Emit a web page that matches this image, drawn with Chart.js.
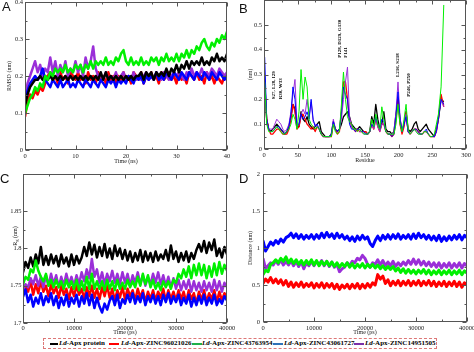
<!DOCTYPE html>
<html><head><meta charset="utf-8">
<script src="https://cdn.jsdelivr.net/npm/chart.js@4/dist/chart.umd.min.js"></script>
<style>
html,body{margin:0;padding:0;background:#fff;}
#wrap{position:relative;width:474px;height:352px;overflow:hidden;background:#fff;}
canvas{position:absolute;}
.lbl{position:absolute;font-family:"Liberation Sans",Arial,sans-serif;font-size:13px;color:#111;line-height:13px;}
#legend{position:absolute;left:43px;top:338px;width:394px;height:11px;border:1px dashed #d77;box-sizing:border-box;}
.li{position:absolute;top:0;height:9px;font-family:"Liberation Serif",serif;font-weight:bold;font-size:7px;line-height:9px;white-space:nowrap;color:#000;}
.li i{font-style:italic;}
.sw{position:absolute;top:3.5px;height:2.5px;width:10px;}
#ctitle{position:absolute;left:-6px;top:232px;width:42px;height:8px;line-height:8px;text-align:center;font-family:"Liberation Serif",serif;font-size:6px;color:#222;transform:rotate(-90deg);}
#ctitle sub{font-size:4.5px;vertical-align:-1px;line-height:0;}
</style></head>
<body>
<div id="wrap">
<canvas id="cA" width="237" height="166" style="left:0;top:0"></canvas>
<canvas id="cB" width="237" height="166" style="left:237px;top:0"></canvas>
<canvas id="cC" width="237" height="168" style="left:0;top:170px"></canvas>
<canvas id="cD" width="237" height="168" style="left:237px;top:170px"></canvas>
<div class="lbl" style="left:2px;top:0px">A</div>
<div class="lbl" style="left:239px;top:2px">B</div>
<div class="lbl" style="left:0px;top:172px">C</div>
<div class="lbl" style="left:239px;top:172px">D</div>
<div id="ctitle">R<sub>g</sub> (nm)</div>
<div id="legend"></div>
</div>
<script>
// ---------- categories / x values ----------
const timeNs = [0,0.5,1,1.5,2,2.5,3,3.5,4,4.5,5,5.5,6,6.5,7,7.5,8,8.5,9,9.5,10,10.5,11,11.5,12,12.5,13,13.5,14,14.5,15,15.5,16,16.5,17,17.5,18,18.5,19,19.5,20,20.5,21,21.5,22,22.5,23,23.5,24,24.5,25,25.5,26,26.5,27,27.5,28,28.5,29,29.5,30,30.5,31,31.5,32,32.5,33,33.5,34,34.5,35,35.5,36,36.5,37,37.5,38,38.5,39,39.5,40];
const timePs = [0,500,1000,1500,2000,2500,3000,3500,4000,4500,5000,5500,6000,6500,7000,7500,8000,8500,9000,9500,10000,10500,11000,11500,12000,12500,13000,13500,14000,14500,15000,15500,16000,16500,17000,17500,18000,18500,19000,19500,20000,20500,21000,21500,22000,22500,23000,23500,24000,24500,25000,25500,26000,26500,27000,27500,28000,28500,29000,29500,30000,30500,31000,31500,32000,32500,33000,33500,34000,34500,35000,35500,36000,36500,37000,37500,38000,38500,39000,39500,40000];
const residues = [1,4,7,10,13,16,19,22,25,28,31,34,37,40,43,46,49,52,55,58,61,64,67,70,73,76,79,82,85,88,91,94,97,100,103,106,109,112,115,118,121,124,127,130,133,136,139,142,145,148,151,154,157,160,163,166,169,172,175,178,181,184,187,190,193,196,199,202,205,208,211,214,217,220,223,226,229,232,235,238,241,244,247,250,253,256,259,263,267];

// ---------- tick labels ----------
const ticksA_x = [0,10,20,30,40];
const ticksA_y = [0,0.1,0.2,0.3,0.4];
const ticksB_x = [0,50,100,150,200,250,300];
const ticksB_y = [0,0.1,0.2,0.3,0.4,0.5];
const ticksC_x = [0,10000,20000,30000,40000];
const ticksC_y = [1.7,1.75,1.8,1.85];
const ticksD_x = [0,10000,20000,30000,40000];
const ticksD_y = [0,0.5,1,1.5,2];

// ---------- series names ----------
const seriesNames = ['Ld-Apx protein','Ld-Apx-ZINC96021026','Ld-Apx-ZINC43763954','Ld-Apx-ZINC43061727','Ld-Apx-ZINC14951505'];

// ---------- A: RMSD (nm) ----------
const rmsdProtein = [0.12,0.15,0.17,0.18,0.19,0.19,0.2,0.19,0.2,0.19,
0.2,0.19,0.2,0.19,0.2,0.19,0.2,0.19,0.2,0.19,
0.2,0.19,0.2,0.19,0.2,0.19,0.2,0.19,0.2,0.19,
0.21,0.19,0.21,0.19,0.2,0.19,0.2,0.19,0.2,0.19,
0.2,0.19,0.2,0.19,0.2,0.2,0.21,0.19,0.21,0.2,
0.21,0.19,0.21,0.2,0.21,0.2,0.22,0.2,0.22,0.21,
0.23,0.21,0.23,0.22,0.24,0.22,0.24,0.23,0.24,0.23,
0.25,0.23,0.24,0.23,0.25,0.24,0.26,0.24,0.25,0.24,
0.26];
const rmsdZ960 = [0.09,0.13,0.15,0.14,0.16,0.15,0.17,0.16,0.18,0.2,
0.21,0.19,0.2,0.18,0.21,0.19,0.2,0.18,0.21,0.2,
0.19,0.21,0.19,0.2,0.18,0.21,0.19,0.2,0.18,0.21,
0.19,0.2,0.18,0.21,0.19,0.2,0.18,0.2,0.19,0.21,
0.19,0.2,0.18,0.21,0.2,0.19,0.21,0.18,0.2,0.19,
0.21,0.19,0.2,0.18,0.21,0.19,0.2,0.21,0.19,0.2,
0.18,0.21,0.19,0.2,0.18,0.21,0.2,0.19,0.21,0.19,
0.2,0.18,0.21,0.19,0.2,0.18,0.2,0.19,0.18,0.2,
0.19];
const rmsdZ437 = [0.1,0.12,0.14,0.15,0.17,0.16,0.18,0.17,0.2,0.19,
0.21,0.2,0.22,0.21,0.22,0.21,0.23,0.21,0.22,0.21,
0.23,0.22,0.23,0.21,0.23,0.22,0.24,0.22,0.24,0.23,
0.24,0.23,0.25,0.23,0.24,0.23,0.25,0.24,0.26,0.27,
0.24,0.23,0.25,0.23,0.24,0.23,0.25,0.23,0.24,0.23,
0.25,0.24,0.25,0.23,0.25,0.24,0.26,0.24,0.25,0.24,
0.26,0.24,0.26,0.25,0.27,0.25,0.27,0.26,0.28,0.27,
0.29,0.3,0.28,0.27,0.29,0.28,0.3,0.29,0.31,0.3,
0.32];
const rmsdZ430 = [0.13,0.16,0.18,0.19,0.2,0.19,0.2,0.22,0.19,0.18,
0.17,0.19,0.18,0.17,0.19,0.17,0.18,0.19,0.17,0.18,
0.17,0.19,0.18,0.17,0.19,0.18,0.17,0.19,0.18,0.17,
0.19,0.18,0.17,0.19,0.18,0.19,0.17,0.19,0.18,0.19,
0.18,0.2,0.19,0.18,0.2,0.19,0.2,0.18,0.2,0.19,
0.2,0.19,0.21,0.19,0.2,0.19,0.21,0.2,0.19,0.21,
0.2,0.19,0.21,0.2,0.19,0.21,0.2,0.19,0.21,0.2,
0.19,0.21,0.2,0.19,0.21,0.2,0.19,0.21,0.2,0.19,
0.2];
const rmsdZ149 = [0.14,0.18,0.2,0.22,0.24,0.21,0.23,0.2,0.22,0.21,
0.25,0.21,0.24,0.2,0.23,0.21,0.24,0.2,0.22,0.21,
0.24,0.21,0.23,0.2,0.25,0.22,0.24,0.28,0.22,0.2,
0.2,0.19,0.21,0.19,0.2,0.19,0.21,0.19,0.2,0.21,
0.19,0.2,0.19,0.21,0.19,0.2,0.19,0.2,0.21,0.19,
0.2,0.19,0.21,0.2,0.19,0.21,0.2,0.19,0.2,0.21,
0.2,0.21,0.2,0.19,0.21,0.2,0.22,0.2,0.21,0.2,
0.22,0.2,0.21,0.2,0.22,0.21,0.2,0.22,0.21,0.2,
0.21];

// ---------- B: RMSF (nm) per residue ----------
const rmsfProtein = [0.28,0.12,0.08,0.07,0.08,0.09,0.1,0.09,0.08,0.07,
0.06,0.07,0.09,0.13,0.18,0.16,0.09,0.09,0.15,0.12,
0.11,0.13,0.1,0.09,0.08,0.09,0.1,0.11,0.07,0.06,
0.05,0.05,0.05,0.06,0.11,0.08,0.07,0.08,0.1,0.13,
0.14,0.15,0.13,0.1,0.09,0.08,0.08,0.09,0.08,0.07,
0.07,0.06,0.07,0.13,0.1,0.18,0.12,0.08,0.1,0.15,
0.08,0.07,0.07,0.06,0.07,0.14,0.2,0.12,0.07,0.1,
0.15,0.08,0.07,0.08,0.1,0.11,0.08,0.07,0.08,0.09,
0.1,0.08,0.07,0.06,0.05,0.08,0.12,0.2,0.19];
const rmsfZ960 = [0.25,0.12,0.08,0.06,0.06,0.07,0.08,0.08,0.07,0.06,
0.06,0.06,0.08,0.12,0.18,0.15,0.08,0.09,0.13,0.14,
0.12,0.1,0.09,0.08,0.09,0.07,0.09,0.08,0.06,0.05,
0.05,0.05,0.05,0.05,0.1,0.08,0.06,0.07,0.15,0.27,
0.27,0.2,0.12,0.09,0.08,0.07,0.08,0.07,0.07,0.07,
0.07,0.06,0.07,0.1,0.08,0.12,0.09,0.07,0.1,0.1,
0.07,0.06,0.06,0.05,0.06,0.12,0.2,0.1,0.06,0.09,
0.15,0.07,0.06,0.07,0.08,0.08,0.07,0.06,0.06,0.07,
0.07,0.06,0.05,0.05,0.05,0.07,0.12,0.22,0.17];
const rmsfZ437 = [0.27,0.1,0.07,0.07,0.07,0.08,0.09,0.08,0.07,0.06,
0.06,0.07,0.08,0.1,0.14,0.12,0.08,0.15,0.32,0.2,
0.29,0.25,0.12,0.1,0.09,0.08,0.09,0.08,0.06,0.05,
0.05,0.05,0.05,0.05,0.1,0.07,0.06,0.07,0.18,0.31,
0.2,0.13,0.11,0.1,0.08,0.08,0.07,0.08,0.07,0.06,
0.06,0.06,0.07,0.12,0.09,0.14,0.1,0.08,0.17,0.12,
0.07,0.06,0.06,0.06,0.06,0.1,0.18,0.1,0.07,0.12,
0.18,0.08,0.06,0.07,0.08,0.07,0.06,0.06,0.06,0.07,
0.07,0.06,0.05,0.05,0.06,0.1,0.14,0.25,0.58];
const rmsfZ430 = [0.37,0.12,0.08,0.07,0.07,0.08,0.09,0.09,0.08,0.07,
0.06,0.07,0.09,0.14,0.25,0.2,0.09,0.1,0.14,0.12,
0.13,0.15,0.12,0.2,0.12,0.09,0.1,0.08,0.06,0.05,
0.05,0.05,0.05,0.06,0.11,0.08,0.07,0.08,0.15,0.25,
0.22,0.2,0.1,0.08,0.08,0.07,0.08,0.08,0.07,0.07,
0.06,0.06,0.07,0.1,0.09,0.13,0.1,0.08,0.12,0.11,
0.07,0.06,0.06,0.05,0.06,0.13,0.23,0.12,0.07,0.1,
0.13,0.07,0.06,0.07,0.08,0.08,0.07,0.06,0.06,0.07,
0.08,0.06,0.05,0.05,0.05,0.07,0.12,0.2,0.18];
const rmsfZ149 = [0.3,0.11,0.08,0.08,0.08,0.1,0.12,0.11,0.1,0.08,
0.07,0.08,0.1,0.15,0.22,0.28,0.1,0.1,0.14,0.16,
0.14,0.2,0.13,0.19,0.11,0.1,0.09,0.08,0.06,0.05,
0.05,0.05,0.05,0.06,0.12,0.08,0.07,0.08,0.12,0.2,
0.27,0.33,0.13,0.09,0.08,0.07,0.08,0.07,0.07,0.06,
0.06,0.06,0.07,0.1,0.08,0.12,0.09,0.07,0.1,0.1,
0.07,0.06,0.06,0.06,0.07,0.15,0.27,0.13,0.07,0.1,
0.14,0.07,0.06,0.07,0.08,0.07,0.06,0.06,0.06,0.07,
0.07,0.06,0.05,0.05,0.05,0.07,0.13,0.2,0.17];
const rmsfNotes = [
  {text:'S27, L28, I29', res:15, val:0.2},
  {text:'R30, W33', res:25, val:0.2},
  {text:'P128, D129, G130', res:113, val:0.367},
  {text:'F141', res:121, val:0.367},
  {text:'L216, S218', res:199, val:0.29},
  {text:'P246, P250', res:215, val:0.21}
];

// ---------- C: Rg (nm) ----------
const rgProtein = [1.768,1.782,1.774,1.788,1.776,1.792,1.78,1.802,1.778,1.79,
1.778,1.792,1.78,1.79,1.776,1.792,1.78,1.788,1.776,1.792,
1.778,1.79,1.78,1.788,1.802,1.79,1.808,1.792,1.805,1.788,
1.802,1.79,1.806,1.788,1.8,1.786,1.804,1.79,1.8,1.786,
1.798,1.784,1.796,1.782,1.794,1.784,1.798,1.782,1.796,1.784,
1.794,1.782,1.796,1.784,1.792,1.786,1.798,1.784,1.804,1.786,
1.796,1.782,1.794,1.784,1.796,1.782,1.794,1.786,1.798,1.806,
1.796,1.81,1.794,1.808,1.798,1.812,1.79,1.8,1.788,1.802,
1.792];
const rgZ960 = [1.738,1.75,1.742,1.756,1.738,1.752,1.74,1.756,1.742,1.75,
1.736,1.752,1.74,1.748,1.734,1.75,1.738,1.746,1.732,1.748,
1.736,1.75,1.738,1.746,1.732,1.748,1.736,1.75,1.734,1.746,
1.732,1.748,1.736,1.75,1.734,1.746,1.73,1.744,1.734,1.748,
1.732,1.746,1.736,1.744,1.73,1.746,1.734,1.744,1.728,1.742,
1.732,1.744,1.73,1.742,1.734,1.746,1.73,1.744,1.732,1.742,
1.73,1.744,1.732,1.742,1.728,1.744,1.732,1.74,1.726,1.742,
1.73,1.744,1.728,1.74,1.732,1.744,1.728,1.742,1.73,1.74,
1.734];
const rgZ437 = [1.752,1.762,1.758,1.772,1.768,1.784,1.77,1.762,1.756,1.766,
1.75,1.758,1.748,1.758,1.748,1.756,1.746,1.758,1.748,1.756,
1.746,1.758,1.744,1.756,1.744,1.762,1.746,1.766,1.746,1.756,
1.746,1.756,1.744,1.758,1.746,1.756,1.744,1.758,1.746,1.754,
1.746,1.758,1.748,1.756,1.748,1.762,1.75,1.766,1.752,1.764,
1.748,1.758,1.746,1.754,1.744,1.756,1.748,1.756,1.746,1.758,
1.754,1.766,1.76,1.772,1.762,1.776,1.76,1.778,1.764,1.78,
1.764,1.778,1.76,1.776,1.762,1.78,1.764,1.782,1.766,1.778,
1.77];
const rgZ430 = [1.735,1.745,1.728,1.738,1.722,1.734,1.726,1.74,1.724,1.736,
1.728,1.74,1.724,1.736,1.72,1.734,1.724,1.738,1.722,1.734,
1.726,1.738,1.722,1.736,1.726,1.74,1.724,1.738,1.72,1.734,
1.722,1.714,1.726,1.718,1.73,1.736,1.724,1.738,1.72,1.732,
1.726,1.738,1.728,1.74,1.726,1.736,1.728,1.74,1.724,1.736,
1.728,1.738,1.726,1.736,1.724,1.738,1.728,1.74,1.726,1.736,
1.728,1.738,1.724,1.734,1.726,1.738,1.722,1.734,1.724,1.736,
1.726,1.738,1.724,1.734,1.726,1.738,1.724,1.732,1.726,1.736,
1.73];
const rgZ149 = [1.744,1.752,1.748,1.76,1.752,1.764,1.75,1.762,1.748,1.764,
1.75,1.766,1.752,1.764,1.748,1.762,1.75,1.766,1.752,1.762,
1.75,1.764,1.752,1.768,1.756,1.772,1.76,1.786,1.762,1.772,
1.754,1.768,1.752,1.766,1.756,1.77,1.754,1.766,1.752,1.768,
1.754,1.766,1.75,1.764,1.754,1.768,1.752,1.764,1.75,1.762,
1.752,1.766,1.754,1.768,1.752,1.764,1.75,1.762,1.748,1.76,
1.746,1.758,1.744,1.756,1.746,1.758,1.742,1.756,1.744,1.754,
1.742,1.756,1.744,1.754,1.742,1.758,1.744,1.756,1.742,1.754,
1.748];

// ---------- D: Distance (nm) ----------
const distZ960 = [0.52,0.58,0.54,0.6,0.53,0.58,0.52,0.57,0.5,0.56,
0.48,0.54,0.47,0.53,0.48,0.54,0.47,0.52,0.48,0.53,
0.46,0.52,0.47,0.53,0.46,0.52,0.47,0.52,0.45,0.51,
0.44,0.5,0.46,0.51,0.45,0.51,0.46,0.52,0.45,0.51,
0.46,0.52,0.47,0.53,0.5,0.64,0.58,0.62,0.52,0.57,
0.49,0.55,0.5,0.56,0.49,0.55,0.5,0.56,0.49,0.55,
0.5,0.56,0.49,0.55,0.5,0.56,0.49,0.55,0.48,0.54,
0.49,0.55,0.48,0.54,0.49,0.55,0.48,0.54,0.47,0.53,
0.5];
const distZ437 = [0.64,0.7,0.68,0.78,0.8,0.84,0.8,0.86,0.82,0.88,
0.8,0.85,0.79,0.84,0.78,0.83,0.77,0.83,0.78,0.84,
0.77,0.83,0.76,0.82,0.77,0.82,0.76,0.81,0.75,0.8,
0.74,0.79,0.75,0.8,0.74,0.79,0.73,0.78,0.74,0.79,
0.73,0.78,0.74,0.78,0.73,0.77,0.72,0.76,0.71,0.75,
0.71,0.75,0.69,0.73,0.67,0.72,0.66,0.71,0.66,0.7,
0.65,0.7,0.66,0.71,0.65,0.7,0.64,0.69,0.65,0.7,
0.64,0.69,0.65,0.7,0.64,0.69,0.65,0.7,0.64,0.69,
0.66];
const distZ430 = [1.1,0.96,1.02,1.08,1.04,1.1,1.06,1.12,1.08,1.14,
1.16,1.2,1.14,1.19,1.13,1.18,1.12,1.17,1.13,1.18,
1.12,1.18,1.13,1.2,1.14,1.21,1.15,1.19,1.13,1.2,
1.14,1.18,1.12,1.16,1.1,1.15,1.09,1.16,1.11,1.17,
1.12,1.15,1.06,1.02,1.1,1.16,1.1,1.17,1.12,1.18,
1.12,1.18,1.13,1.19,1.12,1.17,1.13,1.18,1.12,1.19,
1.13,1.2,1.14,1.18,1.12,1.17,1.11,1.16,1.1,1.17,
1.09,1.15,1.1,1.16,1.11,1.17,1.12,1.18,1.11,1.17,
1.14];
const distZ149 = [0.86,0.72,0.76,0.8,0.77,0.83,0.78,0.84,0.77,0.82,
0.77,0.83,0.76,0.82,0.75,0.82,0.72,0.8,0.76,0.82,
0.76,0.82,0.77,0.83,0.76,0.82,0.75,0.81,0.74,0.78,
0.68,0.72,0.74,0.8,0.76,0.82,0.8,0.86,0.84,0.9,
0.86,0.78,0.74,0.8,0.78,0.84,0.77,0.83,0.76,0.81,
0.76,0.82,0.75,0.8,0.76,0.81,0.77,0.83,0.78,0.85,
0.78,0.84,0.77,0.82,0.76,0.81,0.75,0.8,0.74,0.8,
0.73,0.79,0.74,0.8,0.73,0.79,0.74,0.8,0.73,0.79,
0.76];

// ---------- drawing ----------
const SERIF = '"Liberation Serif","Times New Roman",serif';
const COL = {black:'#000000', red:'#ff0000', green:'#00f000', blue:'#0000ff', purple:'#9a2fd8'};
const LEGCOL = ['#000000','#ff0000','#1fb04a','#2f73b8','#7a30a8'];

function series(xs, ys, color, w){
  return {data: xs.map((x,i)=>({x:x, y:ys[i]})), borderColor: color, borderWidth: w,
          pointRadius:0, tension:0, fill:false, spanGaps:true, borderJoinStyle:'round'};
}

const framePlugin = {
  id:'frame',
  afterDatasetsDraw(chart){
    const ctx = chart.ctx, a = chart.chartArea, sx = chart.scales.x, sy = chart.scales.y;
    ctx.save();
    ctx.strokeStyle = '#555'; ctx.lineWidth = 1;
    const L = Math.round(a.left)+0.5, R = Math.round(a.right)-0.5, T = Math.round(a.top)+0.5, B = Math.round(a.bottom)-0.5;
    ctx.strokeRect(L, T, R-L, B-T);
    const xs = sx.ticks.map(t=>Math.round(sx.getPixelForValue(t.value))+0.5);
    const ys = sy.ticks.map(t=>Math.round(sy.getPixelForValue(t.value))+0.5);
    ctx.beginPath();
    xs.forEach((p,i)=>{
      ctx.moveTo(p,B); ctx.lineTo(p,B-4); ctx.moveTo(p,T); ctx.lineTo(p,T+4);
      if(i<xs.length-1){ const m=Math.round((p+xs[i+1])/2)+0.5; ctx.moveTo(m,B); ctx.lineTo(m,B-2); ctx.moveTo(m,T); ctx.lineTo(m,T+2); }
    });
    ys.forEach((p,i)=>{
      ctx.moveTo(L,p); ctx.lineTo(L+4,p); ctx.moveTo(R,p); ctx.lineTo(R-4,p);
      if(i<ys.length-1){ const m=Math.round((p+ys[i+1])/2)+0.5; ctx.moveTo(L,m); ctx.lineTo(L+2,m); ctx.moveTo(R,m); ctx.lineTo(R-2,m); }
    });
    ctx.stroke();
    ctx.restore();
  }
};

const notesPlugin = {
  id:'notes',
  afterDatasetsDraw(chart, args, opts){
    if(!opts || !opts.items) return;
    const ctx = chart.ctx, sx = chart.scales.x, sy = chart.scales.y;
    ctx.save();
    ctx.fillStyle = '#000';
    ctx.font = 'bold 5px ' + SERIF;
    ctx.textAlign = 'left'; ctx.textBaseline = 'middle';
    opts.items.forEach(n=>{
      ctx.save();
      ctx.translate(sx.getPixelForValue(n.res), sy.getPixelForValue(n.val));
      ctx.rotate(-Math.PI/2);
      ctx.fillText(n.text, 0, 0);
      ctx.restore();
    });
    ctx.restore();
  }
};

function makeChart(id, o){
  new Chart(document.getElementById(id), {
    type:'line',
    data:{datasets:o.datasets},
    options:{
      responsive:false, animation:false, devicePixelRatio:1,
      layout:{padding:o.pad},
      plugins:{legend:{display:false}, tooltip:{enabled:false}, notes: o.notes ? {items:o.notes} : false},
      scales:{
        x:{type:'linear', min:o.xmin, max:o.xmax,
          grid:{display:false, drawTicks:false}, border:{display:false},
          afterBuildTicks:s=>{ s.ticks = o.xticks.map(v=>({value:v})); },
          afterFit:s=>{ s.height = o.xh; s.paddingLeft = 0; s.paddingRight = 0; },
          ticks:{font:{family:SERIF,size:6.5}, color:'#222', padding:o.xtp, maxRotation:0, autoSkip:false, callback:v=>String(v)},
          title:{display:true, text:o.xtitle, font:{family:SERIF,size:6}, color:'#222', padding:{top:0,bottom:o.xtb}}
        },
        y:{type:'linear', min:o.ymin, max:o.ymax,
          grid:{display:false, drawTicks:false}, border:{display:false},
          afterBuildTicks:s=>{ s.ticks = o.yticks.map(v=>({value:v})); },
          afterFit:s=>{ s.width = o.yw; s.paddingTop = 0; s.paddingBottom = 0; },
          ticks:{font:{family:SERIF,size:6.5}, color:'#222', padding:o.ytp, autoSkip:false, callback:v=>String(v)},
          title:{display: !!o.ytitle, text:o.ytitle||'', font:{family:SERIF,size:6}, color:'#222', padding:{top:o.ytt,bottom:0}}
        }
      }
    },
    plugins:[framePlugin, notesPlugin]
  });
}

makeChart('cA', {
  datasets:[
    series(timeNs, rmsdZ437, COL.green, 2.5),
    series(timeNs, rmsdProtein, COL.black, 2.5),
    series(timeNs, rmsdZ430, COL.blue, 2.5),
    series(timeNs, rmsdZ149, COL.purple, 2.5),
    series(timeNs, rmsdZ960, COL.red, 2.5)
  ],
  pad:{left:0,right:10,top:2,bottom:0},
  xmin:0, xmax:40, ymin:0, ymax:0.4, xticks:ticksA_x, yticks:ticksA_y,
  xh:16, yw:25, xtp:2, ytp:2, xtb:0.5, ytt:6,
  xtitle:'Time (ns)', ytitle:'RMSD (nm)'
});

makeChart('cB', {
  datasets:[
    series(residues, rmsfZ437, COL.green, 1),
    series(residues, rmsfZ430, COL.blue, 1),
    series(residues, rmsfZ149, COL.purple, 1),
    series(residues, rmsfZ960, COL.red, 1.3),
    series(residues, rmsfProtein, COL.black, 1.3)
  ],
  pad:{left:0,right:8,top:0,bottom:0},
  xmin:0, xmax:300, ymin:0, ymax:0.6, xticks:ticksB_x, yticks:ticksB_y,
  xh:17, yw:27, xtp:2, ytp:2, xtb:2.4, ytt:9.4,
  xtitle:'Residue', ytitle:'(nm)', notes:rmsfNotes
});

makeChart('cC', {
  datasets:[
    series(timePs, rgZ430, COL.blue, 2.5),
    series(timePs, rgZ437, COL.green, 2.5),
    series(timePs, rgZ149, COL.purple, 2.5),
    series(timePs, rgZ960, COL.red, 2.5),
    series(timePs, rgProtein, COL.black, 2.5)
  ],
  pad:{left:0,right:10,top:4,bottom:0},
  xmin:0, xmax:40000, ymin:1.7, ymax:1.9, xticks:ticksC_x, yticks:ticksC_y,
  xh:15, yw:23, xtp:1, ytp:1.5, xtb:2.4, ytt:0,
  xtitle:'Time (ps)', ytitle:''
});

makeChart('cD', {
  datasets:[
    series(timePs, distZ437, COL.green, 3),
    series(timePs, distZ149, COL.purple, 3),
    series(timePs, distZ430, COL.blue, 3),
    series(timePs, distZ960, COL.red, 3)
  ],
  pad:{left:0,right:7,top:4,bottom:0},
  xmin:0, xmax:40000, ymin:0, ymax:2, xticks:ticksD_x, yticks:ticksD_y,
  xh:16, yw:26, xtp:2, ytp:3, xtb:2.4, ytt:9.4,
  xtitle:'Time (ps)', ytitle:'Distance (nm)'
});

// legend (HTML)
const legPos = [[6,15],[65,77],[148,158],[229,240],[310,321]];
const leg = document.getElementById('legend');
seriesNames.forEach((name,i)=>{
  const sw = document.createElement('div');
  sw.className = 'sw'; sw.style.left = legPos[i][0]+'px'; sw.style.background = LEGCOL[i];
  if(i===0) sw.style.width = '8px';
  leg.appendChild(sw);
  const t = document.createElement('div');
  t.className = 'li'; t.style.left = legPos[i][1]+'px';
  t.innerHTML = '<i>' + name.slice(0,2) + '</i>' + name.slice(2);
  leg.appendChild(t);
});
</script>
</body></html>
